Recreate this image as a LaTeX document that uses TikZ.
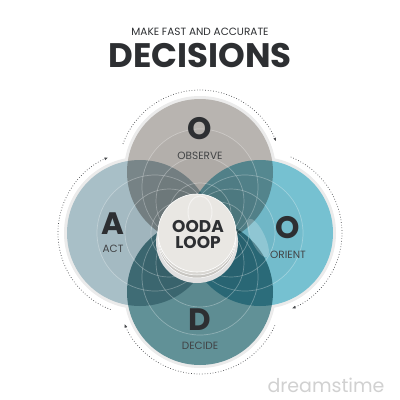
\documentclass[tikz,border=0pt]{standalone}
\usepackage{fontspec}
\setmainfont{Poppins}
\usetikzlibrary{arrows.meta}
\definecolor{obs}{RGB}{184,180,176}
\definecolor{act}{RGB}{168,191,199}
\definecolor{ori}{RGB}{118,193,209}
\definecolor{dec}{RGB}{97,145,151}
\definecolor{ink}{RGB}{45,47,50}
\definecolor{core}{RGB}{233,231,227}
\definecolor{coreA}{RGB}{216,214,210}
\definecolor{coreB}{RGB}{200,198,194}
\tikzset{
  halo/.style={fill=black!8},
  petal/.style={blend mode=multiply},
  ring/.style={fill=black, fill opacity=0.025, draw=white, draw opacity=0.3, line width=0.7pt},
  bigl/.style={font=\bfseries\fontsize{31}{31}\selectfont, text=ink, inner sep=0pt},
  lab/.style={font=\fontsize{10.5}{10.5}\selectfont, text=ink!90, inner sep=0pt},
  flowarc/.style={draw=ink!85, dotted, line width=0.7pt, -{Latex[length=3.5pt,width=3pt]}},
}
\begin{document}
\begin{tikzpicture}[x=1pt,y=-1pt]
\useasboundingbox (0,0) rectangle (400,400);
\fill[white] (0,0) rectangle (400,400);
\coordinate (cO) at (200,172);
\coordinate (cA) at (140,233);
\coordinate (cR) at (260,233);
\coordinate (cD) at (200,292);

% halos
\foreach \c in {cO,cA,cR,cD} \fill[halo] (\c) circle (76);
\foreach \c in {cO,cA,cR,cD} \fill[white] (\c) circle (73);

% petals
\fill[petal, obs] (cO) circle (73);
\fill[petal, act] (cA) circle (73);
\fill[petal, ori] (cR) circle (73);
\fill[petal, dec] (cD) circle (73);

% nested rings
\foreach \r/\d in {58/15,44/29,31/42} {
  \draw[ring] (200,172+\d) circle (\r);
  \draw[ring] (140+\d,233) circle (\r);
  \draw[ring] (260-\d,233) circle (\r);
  \draw[ring] (200,292-\d) circle (\r);
}
% translucent ellipse on ORIENT
\fill[white, fill opacity=0.22, rotate around={25:(258,238)}] (258,238) ellipse (7 and 21);

% dotted cycle arcs
\draw[flowarc] (cO) ++(-160:82) arc[start angle=-160, end angle=-22, radius=82];
\draw[flowarc] (cR) ++(-68:82) arc[start angle=-68, end angle=67, radius=82];
\draw[flowarc] (cD) ++(24:82) arc[start angle=24, end angle=157, radius=82];
\draw[flowarc] (cA) ++(111:82) arc[start angle=111, end angle=247, radius=82];

% center disc
\fill[black!12] (197,242) circle (41);
\fill[coreB, draw=white, line width=0.5pt] (197,239) circle (39);
\fill[coreA, draw=white, line width=0.5pt] (197,236) circle (39);
\fill[core, draw=white, line width=0.6pt] (197,233) circle (39);
\draw[white, line width=1pt, opacity=0.5] (200,212) ellipse (12 and 16);
\node[font=\bfseries\fontsize{17}{16}\selectfont, text=ink, align=center, inner sep=0pt] (core) at (198,235) {OODA\\LOOP};

% titles
\node[font=\fontsize{10.5}{11}\selectfont, text=ink, inner sep=0pt] (sub) at (200,32) {MAKE FAST AND ACCURATE};
\node[font=\bfseries\fontsize{34}{34}\selectfont, text=ink, inner sep=0pt] (title) at (200,56) {DECISIONS};

% letters and labels
\node[bigl] (lO) at (200,129) {O};
\node[lab] (tO) at (200,156) {OBSERVE};
\node[bigl] (lA) at (113,224) {A};
\node[lab] (tA) at (113,249) {ACT};
\node[bigl] (lR) at (288,228) {O};
\node[lab] (tR) at (288,255) {ORIENT};
\node[bigl] (lD) at (200,320) {D};
\node[lab] (tD) at (200,346) {DECIDE};

% watermark
\node[font=\fontsize{19}{19}\selectfont, text=black!18, inner sep=0pt] (wm) at (326,385) {dreamstime};
\end{tikzpicture}
\end{document}
